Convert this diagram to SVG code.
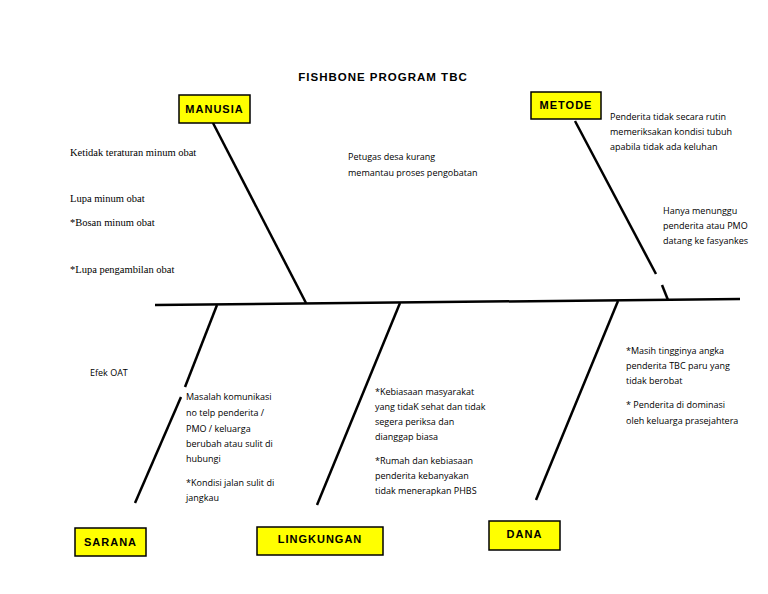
<svg xmlns="http://www.w3.org/2000/svg" width="768" height="594" viewBox="0 0 768 594">
<style>
.box{fill:#ffff00;stroke:#000;stroke-width:1.5}
.lbl{font-family:"Liberation Sans",Arial,sans-serif;font-weight:bold;font-size:11px;letter-spacing:1px;text-anchor:middle}
.ser{font-family:"Liberation Serif",serif;font-size:10.5px}
.san{font-family:"Open Sans","Liberation Sans",sans-serif;font-size:9px}
.bone{stroke:#000;stroke-width:2.5;fill:none}
</style>
<rect width="768" height="594" fill="#fff"/>
<text x="383" y="81" class="lbl" style="font-size:11.5px">FISHBONE PROGRAM TBC</text>
<g id="connectors">
<line class="bone" x1="155" y1="305" x2="740" y2="299"/>
<line class="bone" x1="213" y1="123" x2="306" y2="303"/>
<line class="bone" x1="575" y1="121" x2="656" y2="274"/>
<line class="bone" x1="662" y1="285" x2="668" y2="300"/>
<line class="bone" x1="217" y1="305" x2="185" y2="387"/>
<line class="bone" x1="181" y1="397" x2="135" y2="503"/>
<line class="bone" x1="400" y1="303" x2="317" y2="505"/>
<line class="bone" x1="618" y1="301" x2="536" y2="500"/>
</g>
<g id="manusia"><rect class="box" x="179" y="95" width="71" height="28"/><text class="lbl" x="214.5" y="113">MANUSIA</text></g>
<g id="metode"><rect class="box" x="531" y="92" width="70" height="27"/><text class="lbl" x="566" y="109">METODE</text></g>
<g id="sarana"><rect class="box" x="75" y="528" width="71" height="28"/><text class="lbl" x="110.5" y="546">SARANA</text></g>
<g id="lingkungan"><rect class="box" x="257" y="527" width="126" height="28"/><text class="lbl" x="320" y="543">LINGKUNGAN</text></g>
<g id="dana"><rect class="box" x="489" y="521" width="71" height="29"/><text class="lbl" x="524.5" y="538">DANA</text></g>
<g id="texts">
<text class="ser" x="70" y="156">Ketidak teraturan minum obat</text>
<text class="ser" x="70" y="202">Lupa minum obat</text>
<text class="ser" x="70" y="226">*Bosan minum obat</text>
<text class="ser" x="70" y="273">*Lupa pengambilan obat</text>
<text class="san" x="348" y="160">Petugas desa kurang</text>
<text class="san" x="348" y="176">memantau proses pengobatan</text>
<text class="san" x="610" y="120">Penderita tidak secara rutin</text>
<text class="san" x="610" y="135">memeriksakan kondisi tubuh</text>
<text class="san" x="610" y="150">apabila tidak ada keluhan</text>
<text class="san" x="663" y="214">Hanya menunggu</text>
<text class="san" x="663" y="229">penderita atau PMO</text>
<text class="san" x="663" y="244">datang ke fasyankes</text>
<text class="san" x="90" y="376">Efek OAT</text>
<text class="san" x="186" y="400"> Masalah komunikasi</text>
<text class="san" x="186" y="416">no telp penderita /</text>
<text class="san" x="186" y="432">PMO / keluarga</text>
<text class="san" x="186" y="447">berubah atau sulit di</text>
<text class="san" x="186" y="462">hubungi</text>
<text class="san" x="186" y="486">*Kondisi jalan sulit di</text>
<text class="san" x="186" y="501">jangkau</text>
<text class="san" x="375" y="395">*Kebiasaan masyarakat</text>
<text class="san" x="375" y="410">yang tidaK sehat dan tidak</text>
<text class="san" x="375" y="425">segera periksa dan</text>
<text class="san" x="375" y="440">dianggap biasa</text>
<text class="san" x="375" y="464">*Rumah dan kebiasaan</text>
<text class="san" x="375" y="479">penderita kebanyakan</text>
<text class="san" x="375" y="494">tidak menerapkan PHBS</text>
<text class="san" x="626" y="354">*Masih tingginya angka</text>
<text class="san" x="626" y="369">penderita TBC paru yang</text>
<text class="san" x="626" y="384">tidak berobat</text>
<text class="san" x="626" y="408">* Penderita di dominasi</text>
<text class="san" x="626" y="424">oleh keluarga prasejahtera</text>
</g>
</svg>
